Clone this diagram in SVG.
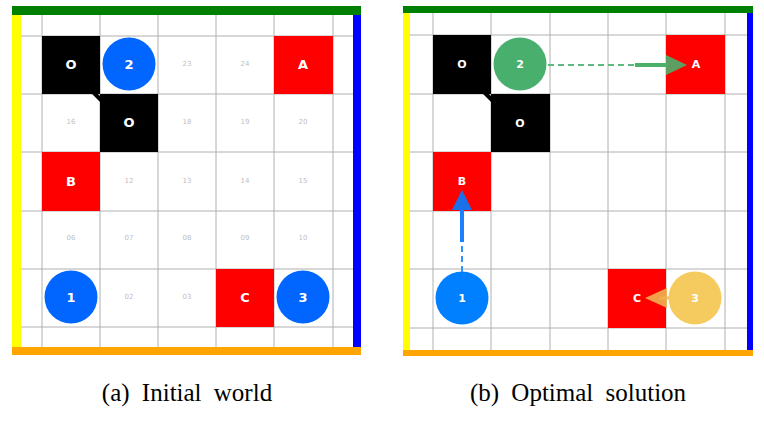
<svg xmlns="http://www.w3.org/2000/svg" width="764" height="427" viewBox="0 0 764 427">
<style>
.g{stroke:#b0b0b0;stroke-width:1;fill:none}
.lab{font-family:"DejaVu Sans",sans-serif;font-weight:bold;fill:#fff;text-anchor:middle;dominant-baseline:central}
.n{font-family:"DejaVu Sans",sans-serif;font-size:7px;fill:#c0c0c0;text-anchor:middle;dominant-baseline:central}
.cap{font-family:"Liberation Serif",serif;font-size:25px;word-spacing:6px;fill:#000;text-anchor:middle}
</style>
<rect width="764" height="427" fill="#fff"/>
<g id="panelA">
<path class="g" d="M42 15V347M100 15V347M158 15V347M216 15V347M274 15V347M333 15V347M21 36H353M21 94H353M21 152H353M21 211H353M21 269H353M21 327H353"/>
<rect x="12" y="6" width="349" height="9" fill="#008000"/>
<rect x="12" y="15" width="9" height="332" fill="#ffff00"/>
<rect x="353" y="15" width="8" height="332" fill="#0000ff"/>
<rect x="12" y="347" width="349" height="8" fill="#ffa500"/>
<g id="a-o1"><rect x="42" y="36" width="58" height="58" fill="#000"/><text class="lab" x="71" y="64" font-size="13">O</text></g>
<g id="a-o2"><rect x="100" y="94" width="58" height="58" fill="#000"/><line x1="93" y1="92" x2="102" y2="101" stroke="#000" stroke-width="4"/><text class="lab" x="129" y="122" font-size="13">O</text></g>
<g id="a-A"><rect x="274" y="36" width="59" height="58" fill="#ff0000"/><text class="lab" x="303" y="64" font-size="13">A</text></g>
<g id="a-B"><rect x="42" y="152" width="58" height="59" fill="#ff0000"/><text class="lab" x="71" y="181" font-size="13">B</text></g>
<g id="a-C"><rect x="216" y="269" width="58" height="58" fill="#ff0000"/><text class="lab" x="245" y="297" font-size="13">C</text></g>
<g id="a-r2"><circle cx="129" cy="64" r="26.5" fill="#0066ff"/><text class="lab" x="129" y="64" font-size="13">2</text></g>
<g id="a-r1"><circle cx="71" cy="297" r="26.5" fill="#0066ff"/><text class="lab" x="71" y="297" font-size="13">1</text></g>
<g id="a-r3"><circle cx="303" cy="297" r="26.5" fill="#0066ff"/><text class="lab" x="303" y="297" font-size="13">3</text></g>
<g id="a-nums">
<text class="n" x="187" y="64">23</text><text class="n" x="245" y="64">24</text>
<text class="n" x="71" y="122">16</text><text class="n" x="187" y="122">18</text><text class="n" x="245" y="122">19</text><text class="n" x="303" y="122">20</text>
<text class="n" x="129" y="181">12</text><text class="n" x="187" y="181">13</text><text class="n" x="245" y="181">14</text><text class="n" x="303" y="181">15</text>
<text class="n" x="71" y="238">06</text><text class="n" x="129" y="238">07</text><text class="n" x="187" y="238">08</text><text class="n" x="245" y="238">09</text><text class="n" x="303" y="238">10</text>
<text class="n" x="129" y="297">02</text><text class="n" x="187" y="297">03</text>
</g>
</g>
<g id="panelB">
<path class="g" d="M433 13V350M491 13V350M550 13V350M608 13V350M666 13V350M725 13V350M410 35H747M410 94H747M410 152H747M410 211H747M410 269H747M410 328H747"/>
<rect x="403" y="6" width="350" height="7" fill="#008000"/>
<rect x="403" y="13" width="7" height="337" fill="#ffff00"/>
<rect x="747" y="13" width="6" height="337" fill="#0000ff"/>
<rect x="403" y="350" width="350" height="6" fill="#ffa500"/>
<g id="b-o1"><rect x="433" y="35" width="58" height="59" fill="#000"/><text class="lab" x="462" y="64" font-size="11">O</text></g>
<g id="b-o2"><rect x="491" y="94" width="59" height="58" fill="#000"/><line x1="484" y1="92" x2="493" y2="101" stroke="#000" stroke-width="4"/><text class="lab" x="520" y="123" font-size="11">O</text></g>
<g id="b-A"><rect x="666" y="35" width="59" height="59" fill="#ff0000"/><text class="lab" x="696" y="64" font-size="11">A</text></g>
<g id="b-B"><rect x="433" y="152" width="58" height="59" fill="#ff0000"/><text class="lab" x="462" y="181" font-size="11">B</text></g>
<g id="b-C"><rect x="608" y="269" width="58" height="59" fill="#ff0000"/><text class="lab" x="637" y="298" font-size="11">C</text></g>
<g id="b-r2"><circle cx="520" cy="64" r="26.5" fill="#48b06c"/><text class="lab" x="520" y="64" font-size="11">2</text></g>
<g id="b-r1"><circle cx="462" cy="298" r="26.5" fill="#0080ff"/><text class="lab" x="462" y="298" font-size="11">1</text></g>
<g id="b-r3"><circle cx="695" cy="298" r="26.5" fill="#f5cb60"/><text class="lab" x="695" y="298" font-size="11">3</text></g>
</g>
<g id="connectors">
<line x1="548" y1="65" x2="635" y2="65" stroke="#5dbb7f" stroke-width="2" stroke-dasharray="6,4"/>
<line x1="635" y1="65" x2="668" y2="65" stroke="#4caf6a" stroke-width="4"/>
<polygon points="666,55 687,65 666,75" fill="#4caf6a" opacity="0.9"/>
<line x1="462" y1="272" x2="462" y2="242" stroke="#3390ff" stroke-width="2" stroke-dasharray="6,4"/>
<line x1="462" y1="242" x2="462" y2="208" stroke="#1a80ff" stroke-width="4"/>
<polygon points="452,210 462,190 472,210" fill="#1a70e8"/>
<line x1="669" y1="298" x2="660" y2="298" stroke="#f5c060" stroke-width="3"/>
<polygon points="667,288 645,298 667,308" fill="#f0b050" opacity="0.9"/>
</g>
<text class="cap" x="187" y="401">(a) Initial world</text>
<text class="cap" x="578" y="401">(b) Optimal solution</text>
</svg>
